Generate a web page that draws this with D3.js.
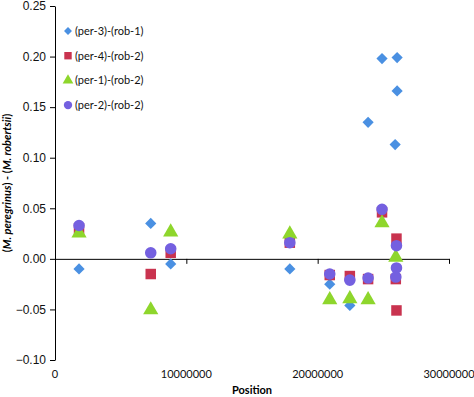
<!DOCTYPE html>
<html lang="en">
<head>
    <meta charset="UTF-8">
    <title>Position differences</title>
    <style>
        body { margin: 0; background: #fff; }
        svg { font-family: Lato, "Open Sans", sans-serif; }
        .tick text { fill: #111; font-size: 12px; }
        .domain, .tick line { stroke: #000; }
    </style>
</head>
<body>
<svg id="chart"></svg>
<script src="https://d3js.org/d3.v7.min.js"></script>
<script>
    // series names and colours
    const seriesNames = ["(per-3)-(rob-1)", "(per-4)-(rob-2)", "(per-1)-(rob-2)", "(per-2)-(rob-2)"];
    const seriesColors = ["#4a90e2", "#c9334f", "#8ed62c", "#7460e0"];

    // positions (bp) and differences, per series
    const per3Pos = [1830000, 7290000, 8810000, 17880000, 20920000, 22450000, 23840000, 24900000, 26050000, 26050000, 25900000];
    const per3Val = [-0.010, 0.035, -0.005, -0.010, -0.025, -0.046, 0.135, 0.198, 0.199, 0.166, 0.113];

    const per4Pos = [1830000, 7290000, 8810000, 17880000, 20920000, 22450000, 23840000, 24900000, 26000000, 25950000, 26000000];
    const per4Val = [0.030, -0.015, 0.006, 0.016, -0.016, -0.017, -0.020, 0.046, 0.020, -0.020, -0.051];

    const per1Pos = [1830000, 7290000, 8810000, 17880000, 20920000, 22450000, 23840000, 24900000, 25950000];
    const per1Val = [0.027, -0.049, 0.028, 0.026, -0.039, -0.038, -0.039, 0.037, 0.003];

    const per2Pos = [1830000, 7290000, 8810000, 17880000, 20920000, 22450000, 23840000, 24900000, 26000000, 26000000, 25950000];
    const per2Val = [0.033, 0.006, 0.010, 0.016, -0.015, -0.021, -0.019, 0.049, 0.013, -0.009, -0.018];

    const xTicks = [0, 10000000, 20000000, 30000000];
    const yTicks = [-0.10, -0.05, 0.00, 0.05, 0.10, 0.15, 0.20, 0.25];

    const width = 474, height = 397;
    const margin = { top: 6, right: 25, bottom: 37, left: 55 };

    const svg = d3.select("#chart").attr("width", width).attr("height", height);

    const x = d3.scaleLinear().domain([0, 30000000]).range([margin.left, width - margin.right]);
    const y = d3.scaleLinear().domain([-0.10, 0.25]).range([height - margin.bottom, margin.top]);

    // y axis
    svg.append("g")
        .attr("transform", `translate(${margin.left},0)`)
        .call(d3.axisLeft(y).tickValues(yTicks).tickSize(5).tickSizeOuter(0).tickPadding(4)
            .tickFormat(d3.format(".2f")));

    // x axis line at zero, labels at bottom
    const xAxis = svg.append("g")
        .attr("transform", `translate(0,${y(0)})`)
        .call(d3.axisBottom(x).tickValues(xTicks).tickSize(5).tickSizeOuter(0).tickFormat(""));
    xAxis.selectAll(".tick").filter(d => d === 0).select("line").remove();

    svg.append("g").selectAll("text")
        .data(xTicks)
        .join("text")
        .attr("x", d => x(d))
        .attr("y", height - margin.bottom + 18)
        .attr("text-anchor", "middle")
        .attr("font-size", 11)
        .attr("fill", "#111")
        .text(d => d3.format("d")(d));

    svg.append("text")
        .attr("x", (x(0) + x(30000000)) / 2)
        .attr("y", height - 3)
        .attr("text-anchor", "middle")
        .attr("font-size", 11)
        .attr("font-weight", "bold")
        .text("Position");

    const yTitle = svg.append("text")
        .attr("transform", `translate(11,${(y(-0.10) + y(0.25)) / 2}) rotate(-90)`)
        .attr("text-anchor", "middle")
        .attr("font-size", 11)
        .attr("font-weight", "bold");
    yTitle.append("tspan").text("(");
    yTitle.append("tspan").attr("font-style", "italic").text("M. peregrinus");
    yTitle.append("tspan").text(") - (");
    yTitle.append("tspan").attr("font-style", "italic").text("M. robertsii");
    yTitle.append("tspan").text(")");

    // marker shapes
    const shapes = [d3.symbolDiamond2, d3.symbolSquare, d3.symbolTriangle, d3.symbolCircle];
    const sizes = [80, 110, 100, 105];
    const series = [
        { pos: per3Pos, val: per3Val },
        { pos: per4Pos, val: per4Val },
        { pos: per1Pos, val: per1Val },
        { pos: per2Pos, val: per2Val }
    ];

    series.forEach((s, i) => {
        const pts = s.pos.map((p, j) => ({ p: p, v: s.val[j] }));
        svg.append("g").selectAll("path")
            .data(pts)
            .join("path")
            .attr("transform", d => `translate(${x(d.p)},${y(d.v) + (i === 2 ? 1.5 : 0)})`)
            .attr("d", d3.symbol().type(shapes[i]).size(sizes[i]))
            .attr("fill", seriesColors[i]);
    });

    // legend
    const legendSizes = [40, 55, 50, 55];
    const legend = svg.append("g").selectAll("g")
        .data(seriesNames)
        .join("g")
        .attr("transform", (d, i) => `translate(68,${31 + i * 24.7})`);
    legend.append("path")
        .attr("d", (d, i) => d3.symbol().type(shapes[i]).size(legendSizes[i])())
        .attr("fill", (d, i) => seriesColors[i]);
    legend.append("text")
        .attr("x", 7)
        .attr("y", 4)
        .attr("font-size", 11)
        .attr("fill", "#111")
        .text(d => d);
</script>
</body>
</html>
